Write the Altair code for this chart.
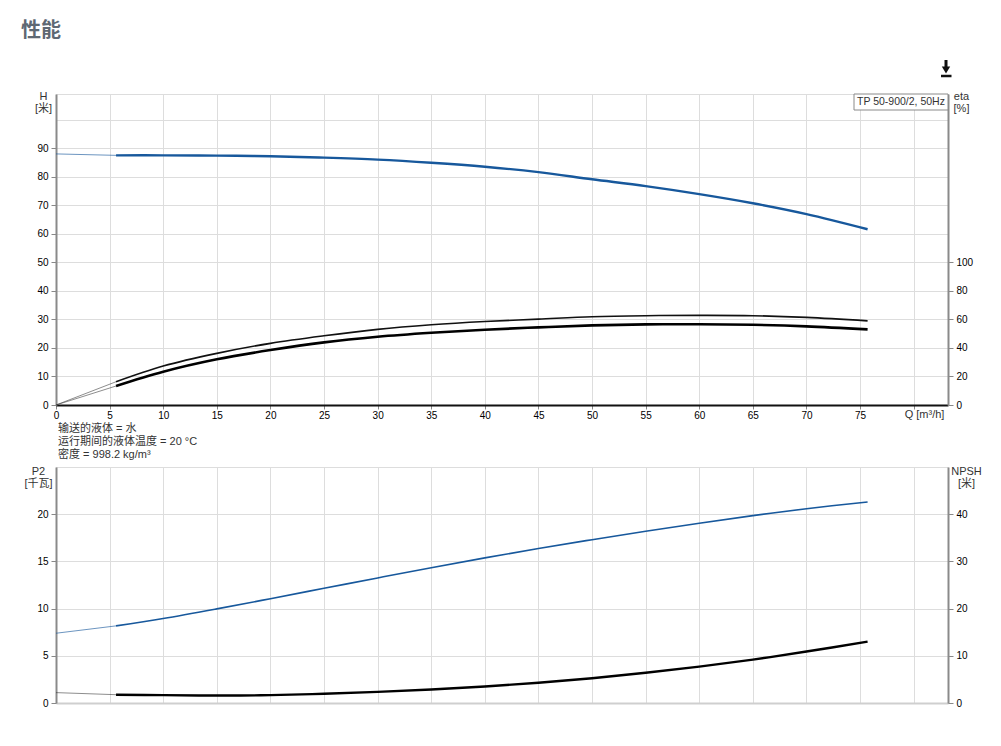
import altair as alt
import pandas as pd

FONT = "Liberation Sans, Noto Sans CJK SC"

# ---------------- data ----------------
Q_THIN = [0, 5.6]
Q = [5.6, 10, 15, 20, 25, 30, 35, 40, 45, 50, 55, 60, 65, 70, 75.7]

H_THIN = [88.0, 87.5]
H = [87.5, 87.5, 87.4, 87.2, 86.7, 86.0, 84.9, 83.5, 81.6, 79.1, 76.7, 73.9, 70.7, 66.9, 61.6]

ETA1_THIN = [0, 16.3]
ETA1 = [16.3, 27.3, 36.2, 43.2, 48.5, 53.0, 56.2, 58.5, 60.2, 61.9, 62.6, 62.8, 62.6, 61.4, 59.0]

ETA2_THIN = [0, 13.3]
ETA2 = [13.3, 23.3, 32.0, 38.5, 43.9, 47.8, 50.6, 52.8, 54.4, 55.8, 56.5, 56.6, 56.2, 55.1, 53.0]

P2_THIN = [7.39, 8.17]
P2 = [8.17, 8.95, 9.97, 11.05, 12.15, 13.25, 14.33, 15.37, 16.37, 17.3, 18.2, 19.05, 19.85, 20.58, 21.3]

NPSH_THIN = [2.2, 1.76]
NPSH = [1.76, 1.66, 1.58, 1.66, 1.95, 2.35, 2.85, 3.5, 4.3, 5.25, 6.4, 7.7, 9.2, 10.9, 13.0]

X_TICKS = [0, 5, 10, 15, 20, 25, 30, 35, 40, 45, 50, 55, 60, 65, 70, 75, 80]
H_TICKS = [0, 10, 20, 30, 40, 50, 60, 70, 80, 90, 100]
ETA_TICKS = [0, 20, 40, 60, 80, 100]
P2_TICKS = [0, 5, 10, 15, 20, 25]
NPSH_TICKS = [0, 10, 20, 30, 40]

TITLE = "性能"
PUMP = "TP 50-900/2, 50Hz"
NOTES = ["输送的液体 = 水", "运行期间的液体温度 = 20 °C", "密度 = 998.2 kg/m³"]

BLUE = "#17589c"

W = 892
H_TOP = 311
H_BOT = 236


def df(qs, vs):
    return pd.DataFrame({"Q": qs, "v": vs})


TITLE_STYLE = dict(titleFont=FONT, titleFontSize=11, titleColor="#333", titleFontWeight="normal")

# ---------------- scales / axes ----------------
x_scale = alt.Scale(domain=[0, 83.2], nice=False, zero=False)

x_top = alt.X(
    "Q:Q", scale=x_scale,
    axis=alt.Axis(values=X_TICKS, labelExpr="datum.value >= 80 ? '' : datum.label",
                  title="Q [m³/h]", titleX=868, titleY=9, titleAlign="center",
                  titleBaseline="middle", grid=True, domainColor="#111", domainWidth=2,
                  tickSize=4, labelPadding=1, labelFlush=False, **TITLE_STYLE),
)
x_bot = alt.X(
    "Q:Q", scale=x_scale,
    axis=alt.Axis(values=X_TICKS, labels=False, ticks=False, title=None, grid=True,
                  domainColor="#cfcfcf", domainWidth=2),
)

hide_top = {"condition": {"test": "datum.value >= 100", "value": 0}, "value": 1}
hide_top_p = {"condition": {"test": "datum.value >= 25", "value": 0}, "value": 1}

y_h = alt.Y(
    "v:Q", scale=alt.Scale(domain=[0, 109], nice=False),
    axis=alt.Axis(orient="left", values=H_TICKS, labelExpr="datum.value >= 100 ? '' : datum.label",
                  tickOpacity=hide_top, title=["H", "[米]"], titleAngle=0, titleAlign="center",
                  titleBaseline="top", titleX=-13, titleY=-4, titleLineHeight=12,
                  grid=True, domainColor="#8a8a8a", domainWidth=2, labelPadding=3, **TITLE_STYLE),
)
y_eta = alt.Y(
    "v:Q", scale=alt.Scale(domain=[0, 218], nice=False),
    axis=alt.Axis(orient="right", values=ETA_TICKS, title=["eta", "[%]"], titleAngle=0,
                  titleAlign="center", titleBaseline="top", titleX=13, titleY=-4,
                  titleLineHeight=12, grid=False, domainColor="#8a8a8a", domainWidth=2,
                  labelPadding=3, **TITLE_STYLE),
)
y_p2 = alt.Y(
    "v:Q", scale=alt.Scale(domain=[0, 25], nice=False),
    axis=alt.Axis(orient="left", values=P2_TICKS, labelExpr="datum.value >= 25 ? '' : datum.label",
                  tickOpacity=hide_top_p, title=["P2", "[千瓦]"], titleAngle=0, titleAlign="center",
                  titleBaseline="top", titleX=-18, titleY=-2, titleLineHeight=12,
                  grid=True, domainColor="#8a8a8a", domainWidth=2, labelPadding=3, **TITLE_STYLE),
)
y_npsh = alt.Y(
    "v:Q", scale=alt.Scale(domain=[0, 50], nice=False),
    axis=alt.Axis(orient="right", values=NPSH_TICKS, title=["NPSH", "[米]"], titleAngle=0,
                  titleAlign="center", titleBaseline="top", titleX=18, titleY=-2,
                  titleLineHeight=12, grid=False, domainColor="#8a8a8a", domainWidth=2,
                  labelPadding=3, **TITLE_STYLE),
)


def line(data, x, y, color, width, opacity=1.0):
    return alt.Chart(data).mark_line(
        color=color, strokeWidth=width, interpolate="catmull-rom", opacity=opacity
    ).encode(x=x, y=y)


# ---------------- top panel ----------------
h_layer = alt.layer(
    line(df(Q_THIN, H_THIN), x_top, y_h, BLUE, 0.8, 0.8),
    line(df(Q, H), x_top, y_h, BLUE, 2.4),
)
eta_layer = alt.layer(
    line(df(Q_THIN, ETA1_THIN), x_top, y_eta, "#333", 0.7, 0.8),
    line(df(Q_THIN, ETA2_THIN), x_top, y_eta, "#333", 0.7, 0.8),
    line(df(Q, ETA1), x_top, y_eta, "#111", 1.6),
    line(df(Q, ETA2), x_top, y_eta, "#000", 2.6),
)

title_txt = alt.Chart(pd.DataFrame({"t": [TITLE]})).mark_text(
    align="left", baseline="top", font="Noto Sans CJK SC", fontSize=20, fontWeight="bold",
    color="#5e6873"
).encode(x=alt.value(-35), y=alt.value(-73), text="t:N")

notes_txt = alt.Chart(pd.DataFrame({"t": ["\n".join(NOTES)]})).mark_text(
    align="left", baseline="top", font=FONT, fontSize=11, color="#333", lineBreak="\n",
    lineHeight=13
).encode(x=alt.value(2), y=alt.value(329), text="t:N")

box = alt.Chart(pd.DataFrame({"t": [PUMP]})).mark_rect(
    fill="white", stroke="#8a8a8a", strokeWidth=1
).encode(x=alt.value(798), x2=alt.value(892), y=alt.value(0), y2=alt.value(16))

box_txt = alt.Chart(pd.DataFrame({"t": [PUMP]})).mark_text(
    align="left", baseline="middle", font=FONT, fontSize=10.5, color="#333"
).encode(x=alt.value(801), y=alt.value(8), text="t:N")

icon_shaft = alt.Chart(pd.DataFrame({"t": [1]})).mark_rule(color="#111", strokeWidth=3).encode(
    x=alt.value(890), y=alt.value(-34), y2=alt.value(-27))
icon_head = alt.Chart(pd.DataFrame({"t": [1]})).mark_point(
    shape="triangle-down", filled=True, color="#111", size=70, opacity=1).encode(
    x=alt.value(890), y=alt.value(-24))
icon_bar = alt.Chart(pd.DataFrame({"t": [1]})).mark_rule(color="#111", strokeWidth=2.5).encode(
    x=alt.value(885), x2=alt.value(895.5), y=alt.value(-18))

top = alt.layer(
    h_layer, eta_layer, box, box_txt, notes_txt, title_txt, icon_shaft, icon_head, icon_bar
).resolve_scale(y="independent").properties(width=W, height=H_TOP)

# ---------------- bottom panel ----------------
p2_layer = alt.layer(
    line(df(Q_THIN, P2_THIN), x_bot, y_p2, BLUE, 0.8, 0.8),
    line(df(Q, P2), x_bot, y_p2, BLUE, 1.6),
)
npsh_layer = alt.layer(
    line(df(Q_THIN, NPSH_THIN), x_bot, y_npsh, "#333", 0.7, 0.8),
    line(df(Q, NPSH), x_bot, y_npsh, "#000", 2.4),
)
bottom = alt.layer(p2_layer, npsh_layer).resolve_scale(y="independent").properties(
    width=W, height=H_BOT)

chart = alt.vconcat(top, bottom, spacing=62, bounds="flush").properties(
    padding={"left": 12, "top": 12, "right": 5, "bottom": 5}
).configure_view(
    stroke="#c4c4c4", strokeWidth=1.5
).configure_axis(
    labelFont=FONT, labelFontSize=11, labelColor="#333",
    titleFont=FONT, titleFontSize=11, titleColor="#333", titleFontWeight="normal",
    tickColor="#444", tickSize=4, gridColor="#dedede", gridWidth=1,
).configure(background="white")

chart.save("out.html", embed_options={"renderer": "svg", "actions": False})
